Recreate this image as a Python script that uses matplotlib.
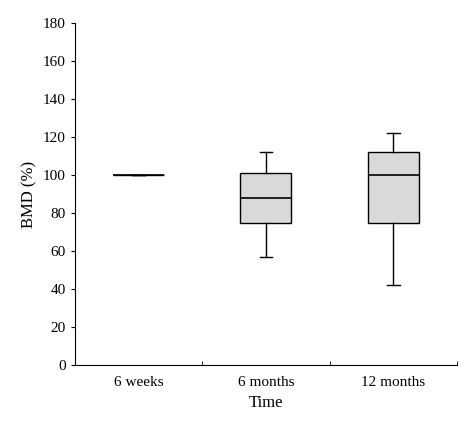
import matplotlib
matplotlib.use("Agg")
import matplotlib.pyplot as plt
from matplotlib.ticker import FixedLocator

plt.rcParams['font.family'] = ['Liberation Serif', 'DejaVu Serif']

categories = ["6 weeks", "6 months", "12 months"]
whislo = [100, 57, 42]
q1 = [100, 75, 75]
med = [100, 88, 100]
q3 = [100, 101, 112]
whishi = [100, 112, 122]

stats = []
for i in range(len(categories)):
    stats.append({"label": categories[i], "whislo": whislo[i], "q1": q1[i],
                  "med": med[i], "q3": q3[i], "whishi": whishi[i], "fliers": []})

fig = plt.figure(figsize=(4.74, 4.28), dpi=100)
ax = fig.add_axes([0.158, 0.147, 0.806, 0.799])
ax.bxp(stats, positions=[0, 1, 2], widths=0.4, patch_artist=True,
       boxprops=dict(facecolor="#d9d9d9", edgecolor="black", linewidth=1),
       medianprops=dict(color="black", linewidth=1.2),
       whiskerprops=dict(color="black", linewidth=1),
       capprops=dict(color="black", linewidth=1),
       capwidths=0.1)

ax.set_xlim(-0.5, 2.5)
ax.set_ylim(0, 180)
ax.set_yticks(range(0, 181, 20))
ax.set_xticks([0, 1, 2])
ax.set_xticklabels(categories)
ax.tick_params(axis="x", length=0, labelsize=11, pad=8)
ax.xaxis.set_minor_locator(FixedLocator([0.5, 1.5, 2.5]))
ax.tick_params(axis="x", which="minor", direction="in", length=3)
ax.tick_params(axis="y", direction="out", length=3, labelsize=11)
ax.spines["top"].set_visible(False)
ax.spines["right"].set_visible(False)
ax.set_xlabel("Time", fontsize=12)
ax.set_ylabel("BMD (%)", fontsize=12)

plt.savefig("out.png")
